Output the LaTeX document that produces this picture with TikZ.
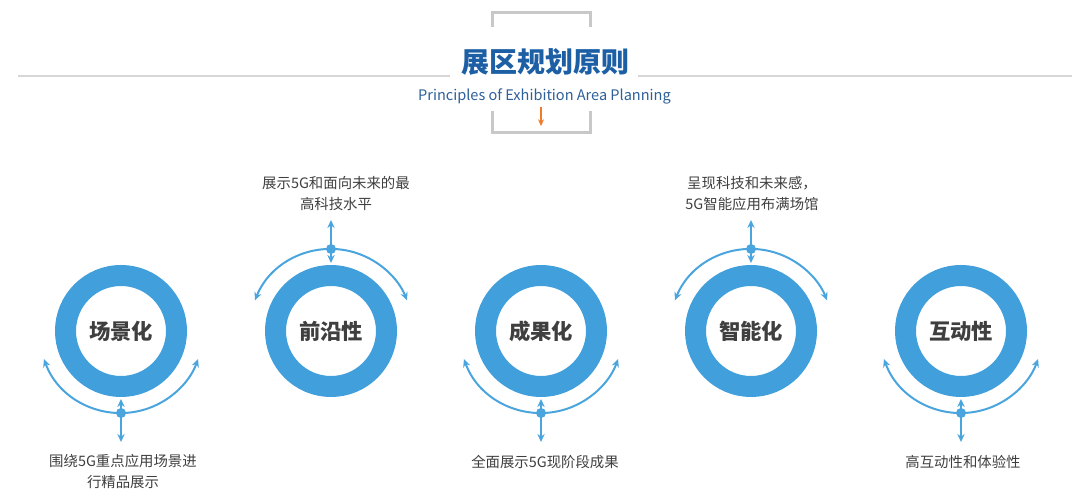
\documentclass[tikz,border=0pt]{standalone}
\usepackage{fontspec}
\setmainfont{Noto Sans CJK SC}
\usetikzlibrary{arrows.meta}
\definecolor{ringblue}{HTML}{41A0DC}
\definecolor{arrblue}{HTML}{4AA5DE}
\definecolor{titleblue}{HTML}{1D5FA5}
\definecolor{subblue}{HTML}{2E5F99}
\definecolor{txtgray}{HTML}{3F3F3F}
\definecolor{linegray}{HTML}{D6D6D6}
\definecolor{brgray}{HTML}{C8C8C8}
\definecolor{orangec}{HTML}{F07A28}
\tikzset{
  ring/.style={circle, draw=ringblue, line width=15.75pt, minimum size=83.25pt, inner sep=0pt,
    font=\fontsize{16pt}{18pt}\selectfont\bfseries, text=txtgray},
  arr/.style={draw=arrblue, line width=1.5pt, {Stealth[length=6pt,width=5.5pt]}-{Stealth[length=6pt,width=5.5pt]}},
  uparr/.style={draw=arrblue, line width=1.5pt, -{Stealth[length=6pt,width=5.5pt]}},
  dot/.style={circle, fill=arrblue, minimum size=7.5pt, inner sep=0pt},
  desc/.style={font=\fontsize{10.8pt}{15.75pt}\selectfont, text=txtgray, align=center, inner sep=0pt},
  hline/.style={draw=linegray, line width=1.5pt},
  bracket/.style={draw=brgray, line width=2.25pt}
}
\begin{document}
\begin{tikzpicture}[x=0.75pt,y=0.75pt]
\useasboundingbox (0,0) rectangle (1080,498);
% header
\coordinate (hl1) at (18,422); \coordinate (hl2) at (450,422);
\coordinate (hr1) at (638,422); \coordinate (hr2) at (1072,422);
\draw[hline] (hl1) -- (hl2);
\draw[hline] (hr1) -- (hr2);
\coordinate (bt1) at (492,471); \coordinate (bt2) at (492,485); \coordinate (bt3) at (590,485); \coordinate (bt4) at (590,471);
\draw[bracket] (bt1) -- (bt2) -- (bt3) -- (bt4);
\coordinate (bb1) at (492,387); \coordinate (bb2) at (492,365); \coordinate (bb3) at (590,365); \coordinate (bb4) at (590,387);
\draw[bracket] (bb1) -- (bb2) -- (bb3) -- (bb4);
\node[font=\fontsize{21pt}{24pt}\selectfont\bfseries, text=titleblue, inner sep=0pt] (title) at (545,436) {展区规划原则};
\node[font=\fontsize{10.9pt}{12pt}\selectfont, text=subblue, inner sep=0pt] (sub) at (544.5,402) {Principles of Exhibition Area Planning};
\coordinate (oa1) at (541,391); \coordinate (oa2) at (541,372);
\draw[draw=orangec, line width=1.4pt, -{Stealth[length=5pt,width=4.5pt]}] (oa1) -- (oa2);
% rings
\node[ring] (r1) at (121,167) {场景化};
\node[ring] (r2) at (331,167) {前沿性};
\node[ring] (r3) at (541,167) {成果化};
\node[ring] (r4) at (751,167) {智能化};
\node[ring] (r5) at (961,167) {互动性};
% bottom arrows
\foreach \r in {r1,r3,r5}{
  \draw[arr] (\r.center) ++(200:82) arc[start angle=200, end angle=340, radius=82];
  \node[dot] (\r d) at ([yshift=-82*0.75pt]\r.center) {};
  \coordinate (\r u) at ([yshift=14*0.75pt]\r d.center);
  \coordinate (\r w) at ([yshift=-29*0.75pt]\r d.center);
  \draw[uparr] (\r d.center) -- (\r u);
  \draw[uparr] (\r d.center) -- (\r w);
}
% top arrows
\foreach \r in {r2,r4}{
  \draw[arr] (\r.center) ++(158:82) arc[start angle=158, end angle=22, radius=82];
  \node[dot] (\r d) at ([yshift=82*0.75pt]\r.center) {};
  \coordinate (\r u) at ([yshift=29*0.75pt]\r d.center);
  \coordinate (\r w) at ([yshift=-14*0.75pt]\r d.center);
  \draw[uparr] (\r d.center) -- (\r u);
  \draw[uparr] (\r d.center) -- (\r w);
}
% descriptions
\node[desc] (t1) at (123,26.5) {围绕5G重点应用场景进\\行精品展示};
\node[desc] (t2) at (336,304.5) {展示5G和面向未来的最\\高科技水平};
\node[desc] (t3) at (545,36) {全面展示5G现阶段成果};
\node[desc] (t4) at (752,304.5) {呈现科技和未来感，\\5G智能应用布满场馆};
\node[desc] (t5) at (963,36) {高互动性和体验性};
\end{tikzpicture}
\end{document}
